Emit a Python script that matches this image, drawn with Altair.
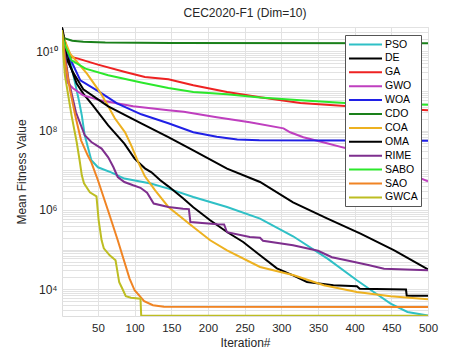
import altair as alt
import pandas as pd

methods = ["PSO", "DE", "GA", "GWO", "WOA", "CDO", "COA", "OMA", "RIME", "SABO", "SAO", "GWCA"]
colors = ["#2FC0C6", "#000000", "#EE2222", "#BF3FBF", "#2020E6", "#1A801A",
          "#EDB120", "#000000", "#7E2F8E", "#2CE82C", "#F08424", "#BDBD22"]

PSO_iter = [1, 12, 17, 24, 28, 32, 41, 50, 68, 86, 122, 146, 180, 226, 271, 316, 363, 403, 426, 449, 472, 500]
PSO_val = [2.84e10, 5.93e9, 2.25e9, 5.81e8, 2.43e8, 7.62e7, 1.79e7, 1.19e7, 8.89e6, 6.18e6, 4.62e6, 3.45e6,
           2.12e6, 1.19e6, 6.05e5, 2.17e5, 5.94e4, 1.69e4, 8.55e3, 4.37e3, 2.68e3, 2.17e3]

DE_iter = [1, 12, 21, 30, 43, 64, 86, 100, 114, 123, 135, 146, 166, 180, 203, 226, 248, 271, 294, 316,
           335, 371, 403, 407, 470, 471, 500]
DE_val = [4.0e10, 4.44e9, 1.53e9, 8.57e8, 4.35e8, 1.36e8, 4.71e7, 1.97e7, 1.12e7, 8.89e6, 5.61e6, 3.94e6,
          1.97e6, 1.17e6, 5.48e5, 2.78e5, 1.56e5, 7.19e4, 3.38e4, 2.25e4, 1.53e4, 1.26e4, 1.19e4, 1.03e4,
          9.83e3, 6.85e3, 6.85e3]

GA_iter = [1, 5, 14, 23, 50, 87, 114, 146, 180, 226, 271, 326, 387, 500]
GA_val = [2.84e10, 1.50e10, 7.18e9, 6.55e9, 4.61e9, 3.01e9, 2.25e9, 1.97e9, 1.39e9, 9.42e8, 6.95e8,
          4.97e8, 4.18e8, 3.25e8]

GWO_iter = [1, 8, 16, 30, 53, 98, 146, 167, 212, 257, 303, 312, 330, 357, 390, 430, 470, 500]
GWO_val = [2.84e10, 1.65e9, 1.17e9, 7.76e8, 5.81e8, 4.10e8, 3.25e8, 2.98e8, 2.17e8, 1.62e8, 1.14e8,
           9.08e7, 6.79e7, 5.08e7, 3.52e7, 1.79e7, 8.89e6, 5.27e6]

WOA_iter = [1, 10, 26, 53, 76, 109, 146, 180, 212, 240, 270, 500]
WOA_val = [2.84e10, 7.93e9, 1.85e9, 9.25e8, 4.89e8, 2.58e8, 1.53e8, 9.08e7, 6.98e7, 5.94e7, 5.70e7, 5.54e7]

CDO_iter = [1, 5, 15, 30, 60, 150, 500]
CDO_val = [2.53e10, 2.12e10, 1.84e10, 1.73e10, 1.66e10, 1.62e10, 1.59e10]

COA_iter = [1, 12, 35, 53, 64, 73, 87, 96, 105, 114, 128, 146, 180, 203, 226, 271, 317, 358, 403, 449, 500]
COA_val = [2.84e10, 8.73e9, 2.74e9, 9.25e8, 4.10e8, 2.05e8, 9.08e7, 4.03e7, 1.59e7, 7.05e6, 3.13e6,
           1.19e6, 3.72e5, 1.72e5, 9.62e4, 3.65e4, 2.25e4, 1.26e4, 8.55e3, 6.67e3, 5.60e3]

OMA_iter = [1, 8, 16, 30, 64, 109, 146, 180, 226, 271, 316, 363, 408, 454, 486, 500]
OMA_val = [4.0e10, 5.93e9, 2.95e9, 1.10e9, 4.10e8, 1.53e8, 6.90e7, 3.18e7, 1.10e7, 5.07e6, 1.56e6,
           6.05e5, 2.54e5, 9.62e4, 4.45e4, 3.19e4]

RIME_iter = [1, 10, 20, 32, 41, 55, 64, 71, 77, 86, 98, 108, 117, 126, 146, 166, 174, 176, 213, 222,
             226, 257, 271, 275, 316, 350, 369, 395, 420, 440, 500]
RIME_val = [2.84e10, 1.85e9, 2.90e8, 7.62e7, 5.16e7, 3.52e7, 2.12e7, 1.21e7, 6.78e6, 5.07e6, 4.19e6,
            3.62e6, 2.71e6, 1.45e6, 1.19e6, 1.07e6, 1.05e6, 4.98e5, 4.36e5, 4.30e5, 2.74e5, 2.08e5,
            1.99e5, 1.67e5, 1.29e5, 9.35e4, 6.41e4, 5.08e4, 4.03e4, 3.29e4, 3.01e4]

SABO_iter = [1, 5, 14, 33, 64, 109, 146, 180, 226, 271, 326, 387, 500]
SABO_val = [2.84e10, 1.42e10, 5.93e9, 3.66e9, 2.48e9, 1.63e9, 1.19e9, 9.42e8, 8.24e8, 6.85e8, 5.81e8,
            4.97e8, 4.48e8]

SAO_iter = [1, 5, 12, 19, 27, 36, 41, 50, 65, 77, 93, 100, 113, 125, 140, 500]
SAO_val = [3.38e10, 5.93e9, 1.04e9, 2.43e8, 5.70e7, 2.39e7, 1.59e7, 5.60e6, 8.24e5, 1.72e5, 1.89e4,
           9.44e3, 4.99e3, 3.95e3, 3.62e3, 3.58e3]

GWCA_iter = [1, 3, 5, 14, 21, 25, 28, 31, 39, 48, 51, 55, 58, 66, 74, 79, 83, 88, 95, 108, 109, 500]
GWCA_val = [3.38e10, 7.18e9, 2.48e9, 2.43e8, 5.16e7, 1.79e7, 7.48e6, 4.70e6, 2.79e6, 2.21e6, 5.48e5,
            1.72e5, 1.08e5, 7.19e4, 5.38e4, 1.50e4, 1.06e4, 6.67e3, 6.11e3, 5.77e3, 2.15e3, 2.15e3]

x_ticks = [50, 100, 150, 200, 250, 300, 350, 400, 450, 500]
y_domain = [2120, 4.1e10]

series = {
    "PSO": (PSO_iter, PSO_val), "DE": (DE_iter, DE_val), "GA": (GA_iter, GA_val),
    "GWO": (GWO_iter, GWO_val), "WOA": (WOA_iter, WOA_val), "CDO": (CDO_iter, CDO_val),
    "COA": (COA_iter, COA_val), "OMA": (OMA_iter, OMA_val), "RIME": (RIME_iter, RIME_val),
    "SABO": (SABO_iter, SABO_val), "SAO": (SAO_iter, SAO_val), "GWCA": (GWCA_iter, GWCA_val),
}

rows = []
for m in methods:
    its, vals = series[m]
    for i, v in zip(its, vals):
        rows.append({"Method": m, "Iteration": i, "Value": v})
df = pd.DataFrame(rows)

# log-scale grid positions (1..9 x 10^k inside the domain)
y_grid = [mm * 10 ** k for k in range(3, 11) for mm in range(1, 10)
          if y_domain[0] <= mm * 10 ** k <= y_domain[1]]
label_expr = ("datum.value == 10000 ? '10⁴' : datum.value == 1000000 ? '10⁶' : "
              "datum.value == 100000000 ? '10⁸' : datum.value == 10000000000 ? '10¹⁰' : ''")

FONT = "Liberation Sans"
TXT = "#262626"

chart = alt.Chart(df).mark_line(strokeWidth=2, clip=True).encode(
    x=alt.X("Iteration:Q",
            scale=alt.Scale(domain=[1, 500], nice=False, zero=False),
            axis=alt.Axis(values=x_ticks, title="Iteration#", grid=True, ticks=False, domain=False,
                          labelPadding=6, titlePadding=4, labelFontSize=11.5, titleFontSize=12,
                          labelFont=FONT, titleFont=FONT, labelColor=TXT, titleColor=TXT,
                          titleFontWeight="normal", gridColor="#e2e2e2", labelFlush=False)),
    y=alt.Y("Value:Q",
            scale=alt.Scale(type="log", domain=y_domain, nice=False),
            axis=alt.Axis(values=y_grid, labelExpr=label_expr, title="Mean Fitness Value",
                          grid=True, ticks=False, domain=False, labelOverlap=False,
                          labelPadding=5, titlePadding=7, labelFontSize=12, titleFontSize=12,
                          labelFont=FONT, titleFont=FONT, labelColor=TXT, titleColor=TXT,
                          titleFontWeight="normal", gridColor="#e2e2e2", labelFlush=False)),
    color=alt.Color("Method:N", sort=methods,
                    scale=alt.Scale(domain=methods, range=colors),
                    legend=alt.Legend(title=None, orient="none", legendX=283, legendY=8,
                                      symbolType="M-1,0L5,0", symbolSize=121, symbolStrokeWidth=2,
                                      labelFontSize=10.5, labelFont=FONT, labelColor="#000000",
                                      labelOffset=24, padding=3, rowPadding=1.9,
                                      strokeColor="#555555", fillColor="#ffffff",
                                      symbolOpacity=1, labelLimit=120)),
).properties(
    width=366, height=289,
    title=alt.TitleParams("CEC2020-F1 (Dim=10)", fontSize=12, fontWeight="normal",
                          font=FONT, color=TXT, offset=1),
    padding={"left": 62, "top": 27, "right": 46, "bottom": 39},
    autosize=alt.AutoSizeParams(type="none"),
).configure_view(stroke="#8a8a8a", strokeWidth=1).configure(background="white")

chart.save("out.html", embed_options={"renderer": "svg", "actions": False})
